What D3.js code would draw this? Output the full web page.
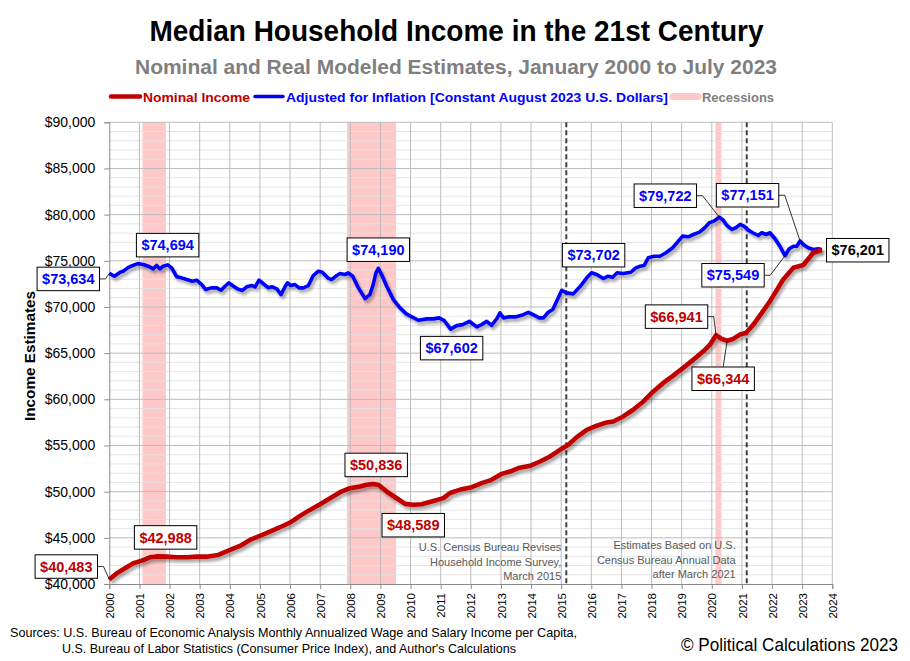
<!DOCTYPE html>
<html><head><meta charset="utf-8">
<script src="https://cdn.jsdelivr.net/npm/d3@7"></script>
<style>body{margin:0;background:#fff}svg{display:block}text{font-family:"Liberation Sans",Arial,sans-serif}</style>
</head><body><svg id="c" width="910" height="661"></svg>
<script>
// ---------- DATA ----------
const realDates = [2000.00,2000.17,2000.36,2000.46,2000.61,2000.72,2000.94,2001.13,2001.29,2001.46,2001.57,2001.68,2001.79,2001.94,2002.07,2002.24,2002.40,2002.57,2002.76,2002.90,2003.07,2003.20,2003.38,2003.57,2003.71,2003.84,2003.97,2004.12,2004.26,2004.41,2004.56,2004.73,2004.84,2004.97,2005.11,2005.28,2005.41,2005.56,2005.70,2005.83,2005.92,2006.03,2006.16,2006.30,2006.44,2006.61,2006.77,2006.94,2007.07,2007.25,2007.38,2007.55,2007.66,2007.82,2007.93,2008.08,2008.27,2008.49,2008.65,2008.76,2008.85,2008.93,2009.04,2009.21,2009.43,2009.65,2009.85,2010.00,2010.26,2010.54,2010.76,2010.95,2011.11,2011.33,2011.53,2011.73,2011.95,2012.20,2012.36,2012.53,2012.69,2012.86,2012.97,2013.08,2013.24,2013.47,2013.69,2013.91,2014.07,2014.27,2014.41,2014.57,2014.72,2014.85,2015.02,2015.18,2015.40,2015.62,2015.85,2016.01,2016.18,2016.40,2016.56,2016.71,2016.86,2017.06,2017.31,2017.48,2017.62,2017.75,2017.89,2018.08,2018.28,2018.48,2018.70,2018.89,2019.03,2019.22,2019.39,2019.59,2019.74,2019.92,2020.07,2020.25,2020.38,2020.50,2020.66,2020.80,2020.94,2021.07,2021.21,2021.36,2021.54,2021.66,2021.80,2021.93,2022.10,2022.26,2022.43,2022.57,2022.71,2022.82,2022.93,2023.04,2023.20,2023.37,2023.54,2023.65];
const realValues = [73634,73330,73760,73870,74240,74415,74694,74600,74415,74130,74490,74130,74415,74560,74240,73265,73155,72970,72790,72900,72430,71890,72070,72070,71810,72245,72610,72245,71960,71780,72180,72320,72180,72900,72540,72070,72180,71960,71345,72180,72610,72320,72430,72070,72070,72320,73405,73870,73760,73155,72970,73405,73620,73510,73700,73330,72070,70910,71345,72430,73700,74190,73510,72245,70800,69900,69285,69000,68560,68710,68710,68820,68560,67602,67980,68090,68450,67840,68090,68450,68015,68710,69360,68820,68925,68925,69100,69425,69175,68820,68820,69425,69720,70620,71810,71530,71420,72180,73155,73702,73510,73080,73330,73220,73700,73620,73760,74240,74415,74490,75325,75500,75500,75870,76410,77130,77670,77600,77850,78100,78500,79120,79300,79722,79400,78830,78400,78580,78940,78750,78320,78040,77740,78040,77850,78040,77390,76580,75549,76300,76580,76580,77151,76770,76410,76230,76300,76201];

const nominalDates = [2000.00,2000.25,2000.52,2000.80,2001.08,2001.35,2001.57,2001.91,2002.24,2002.57,2002.90,2003.23,2003.62,2004.01,2004.34,2004.67,2005.00,2005.33,2005.67,2006.00,2006.33,2006.66,2007.00,2007.33,2007.66,2007.99,2008.32,2008.54,2008.76,2008.93,2009.21,2009.54,2009.82,2010.09,2010.37,2010.70,2011.09,2011.31,2011.70,2012.03,2012.36,2012.69,2013.03,2013.30,2013.58,2013.97,2014.30,2014.63,2014.96,2015.24,2015.52,2015.85,2016.18,2016.51,2016.73,2017.06,2017.39,2017.73,2018.06,2018.39,2018.72,2019.05,2019.39,2019.72,2019.94,2020.14,2020.33,2020.51,2020.71,2020.93,2021.13,2021.38,2021.66,2021.93,2022.04,2022.37,2022.71,2023.04,2023.37,2023.65];
const nominalValues = [40483,41160,41700,42245,42530,42890,42988,42960,42890,42890,42960,42960,43150,43690,44120,44770,45210,45670,46150,46650,47375,48025,48640,49290,49940,50380,50550,50740,50836,50740,50010,49290,48680,48589,48640,48930,49300,49850,50270,50490,50920,51280,51930,52180,52550,52800,53265,53810,54530,55075,55910,56700,57140,57500,57600,58145,58870,59770,60855,61770,62560,63400,64300,65195,65920,66941,66540,66344,66540,67010,67190,68090,69360,70620,71200,72970,74240,74550,75870,76201];

const recessionStarts = [2001.10, 2007.89, 2020.12];
const recessionEnds   = [2001.88, 2009.52, 2020.32];
const markerDates = [2015.17, 2021.16];
const yearTicks = d3.range(2000, 2025);
const incomeTicks = d3.range(40000, 90001, 5000);
const minorTicks = d3.range(40000, 90001, 1000);

// labelled points: series, date, value
const labelSeries = ['real','real','real','real','real','real','real','real','both','nominal','nominal','nominal','nominal','nominal','nominal'];
const labelDates  = [2000.00,2000.94,2008.93,2011.33,2016.01,2020.25,2022.93,2022.43,2023.65,2020.14,2020.51,2008.76,2010.09,2001.57,2000.00];
const labelValues = [73634,74694,74190,67602,73702,79722,77151,75549,76201,66941,66344,50836,48589,42988,40483];
// layout of label boxes (offset from the point, leader style)
const labelLayout = [
  {dx:-41,dy:5.5,leader:'right'},{dx:30,dy:-18.5,leader:'none'},{dx:0,dy:-18.6,leader:'none'},
  {dx:1,dy:19,leader:'none'},{dx:2,dy:-17.6,leader:'none'},{dx:-54,dy:-21.5,leader:'right'},
  {dx:-52.5,dy:-45.7,leader:'right'},{dx:-52,dy:19.5,leader:'right'},{dx:36,dy:0.5,leader:'none'},
  {dx:-39.5,dy:-18.6,leader:'right'},{dx:-4,dy:38,leader:'top'},{dx:3,dy:-19,leader:'none'},
  {dx:0,dy:20.5,leader:'none'},{dx:9,dy:-19,leader:'none'},{dx:-43,dy:-13,leader:'right'}
];

// ---------- CHART ----------
const W = 910, H = 661;
const M = {left:109.3, right:832.3, top:122.3, bottom:584};
const RED = '#c00000', BLUE = '#0000ff';
const svg = d3.select('#c');
const x = d3.scaleLinear().domain([2000, 2024]).range([M.left, M.right]);
const y = d3.scaleLinear().domain([40000, 90000]).range([M.bottom, M.top]);

const defs = svg.append('defs');
const f = defs.append('filter').attr('id','sh').attr('x','-5%').attr('y','-20%').attr('width','110%').attr('height','140%');
f.append('feDropShadow').attr('dx',2).attr('dy',3).attr('stdDeviation',1.6).attr('flood-color','#000').attr('flood-opacity',0.35);

// recession bands
svg.append('g').selectAll('rect').data(recessionStarts).join('rect')
  .attr('x', d => x(d)).attr('width', (d,i) => x(recessionEnds[i]) - x(d))
  .attr('y', M.top).attr('height', M.bottom - M.top)
  .attr('fill', '#ffc9c9');

// grid
const g = svg.append('g');
g.selectAll('.mn').data(minorTicks.filter(v => v % 5000 !== 0)).join('line')
  .attr('x1', M.left).attr('x2', M.right).attr('y1', d => y(d)).attr('y2', d => y(d))
  .attr('stroke', '#e3e3e3').attr('stroke-width', 1).attr('opacity',0.9);
g.selectAll('.mj').data(incomeTicks.filter(v => v > 40000)).join('line')
  .attr('x1', M.left).attr('x2', M.right).attr('y1', d => y(d)).attr('y2', d => y(d))
  .attr('stroke', '#bdbdbd').attr('stroke-width', 1);
g.selectAll('.vx').data(yearTicks.filter(v => v > 2000)).join('line')
  .attr('x1', d => x(d)).attr('x2', d => x(d)).attr('y1', M.top).attr('y2', M.bottom)
  .attr('stroke', '#bdbdbd').attr('stroke-width', 1);

// dashed markers
svg.append('g').selectAll('line').data(markerDates).join('line')
  .attr('x1', d => x(d)).attr('x2', d => x(d)).attr('y1', M.top).attr('y2', M.bottom)
  .attr('stroke', '#404040').attr('stroke-width', 2).attr('stroke-dasharray', '5,3');

// marker notes
const noteColor = '#595959';
const note1 = ['U.S. Census Bureau Revises','Household Income Survey,','March 2015'];
const note2 = ['Estimates Based on U.S.','Census Bureau Annual Data','after March 2021'];
svg.append('g').selectAll('text').data(note1).join('text')
  .attr('x', x(markerDates[0]) - 5).attr('y', (d,i) => 551 + i*14.5)
  .attr('text-anchor','end').attr('font-size', 11).attr('fill', noteColor).text(d => d);
svg.append('g').selectAll('text').data(note2).join('text')
  .attr('x', x(markerDates[1]) - 11).attr('y', (d,i) => 549 + i*14.5)
  .attr('text-anchor','end').attr('font-size', 11).attr('fill', noteColor).text(d => d);

// axes
const yAxis = svg.append('g').attr('transform', `translate(${M.left},0)`)
  .call(d3.axisLeft(y).tickValues(incomeTicks).tickFormat(d3.format('$,')).tickSize(5).tickPadding(9));
yAxis.selectAll('text').attr('font-size', 14).attr('fill', '#000').style('font-family','"Liberation Sans",Arial,sans-serif');
yAxis.selectAll('line,path').attr('stroke', '#8c8c8c');

const xAxis = svg.append('g').attr('transform', `translate(0,${M.bottom})`)
  .call(d3.axisBottom(x).tickValues(yearTicks).tickFormat(d3.format('d')).tickSize(5));
xAxis.selectAll('text').attr('transform','rotate(-90)').attr('text-anchor','end')
  .attr('x', -9).attr('y', 0).attr('dy','0.36em').attr('font-size', 11.5).attr('fill','#000')
  .style('font-family','"Liberation Sans",Arial,sans-serif');
xAxis.selectAll('line,path').attr('stroke', '#8c8c8c');

// lines
const realData = realDates.map((d,i) => [d, realValues[i]]);
const nomData = nominalDates.map((d,i) => [d, nominalValues[i]]);
const line = d3.line().x(d => x(d[0])).y(d => y(d[1]));
svg.append('path').datum(realData).attr('d', line).attr('fill','none')
  .attr('stroke', BLUE).attr('stroke-width', 3.6).attr('stroke-linejoin','round').attr('filter','url(#sh)');
svg.append('path').datum(nomData).attr('d', line).attr('fill','none')
  .attr('stroke', RED).attr('stroke-width', 4.6).attr('stroke-linejoin','round').attr('filter','url(#sh)');

// labels
const fmt = d3.format('$,');
const lg = svg.append('g');
labelValues.forEach((v, i) => {
  const px = x(labelDates[i]), py = y(v);
  const L = labelLayout[i];
  const cx = px + L.dx, cy = py + L.dy;
  const col = labelSeries[i] === 'real' ? BLUE : (labelSeries[i] === 'nominal' ? RED : '#000');
  const gg = lg.append('g');
  const t = gg.append('text').attr('x', cx).attr('y', cy).attr('dy','0.36em')
    .attr('text-anchor','middle').attr('font-size', 14.5).attr('font-weight','bold')
    .attr('fill', col).text(fmt(v));
  const bb = t.node().getBBox();
  const bw = bb.width + 10, bh = 23.5;
  gg.insert('rect','text').attr('x', cx - bw/2).attr('y', cy - bh/2).attr('width', bw).attr('height', bh)
    .attr('fill','#fff').attr('stroke','#000').attr('stroke-width',1);
  if (L.leader === 'right') {
    const sx = cx + bw/2;
    gg.insert('path','rect').attr('d', `M${sx},${cy}H${sx+6}L${px},${py}`)
      .attr('fill','none').attr('stroke','#000').attr('stroke-width',0.8);
  } else if (L.leader === 'top') {
    gg.insert('path','rect').attr('d', `M${cx},${cy-bh/2}L${px},${py}`)
      .attr('fill','none').attr('stroke','#000').attr('stroke-width',0.8);
  }
});

// titles
svg.append('text').attr('x', 456.5).attr('y', 41).attr('text-anchor','middle')
  .attr('font-size', 29).attr('font-weight','bold').attr('fill','#000')
  .attr('textLength', 614).attr('lengthAdjust','spacingAndGlyphs')
  .text('Median Household Income in the 21st Century');
svg.append('text').attr('x', 456).attr('y', 74).attr('text-anchor','middle')
  .attr('font-size', 20).attr('font-weight','bold').attr('fill','#7f7f7f')
  .attr('textLength', 642).attr('lengthAdjust','spacingAndGlyphs')
  .text('Nominal and Real Modeled Estimates, January 2000 to July 2023');

// legend
const leg = svg.append('g');
const legItems = [
  {x1:111, x2:140, col:RED, w:4.5, tx:143, tl:107, text:'Nominal Income', tc:RED},
  {x1:255, x2:283, col:BLUE, w:3.5, tx:286, tl:382, text:'Adjusted for Inflation [Constant August 2023 U.S. Dollars]', tc:BLUE},
  {x1:673, x2:698, col:'#ffc9c9', w:7, tx:702, tl:72, text:'Recessions', tc:'#7f7f7f'}
];
legItems.forEach(d => {
  leg.append('line').attr('x1', d.x1).attr('x2', d.x2).attr('y1', 96.5).attr('y2', 96.5)
    .attr('stroke', d.col).attr('stroke-width', d.w).attr('stroke-linecap','round');
  leg.append('text').attr('x', d.tx).attr('y', 101.5).attr('font-size', 13.5).attr('font-weight','bold')
    .attr('fill', d.tc).attr('textLength', d.tl).attr('lengthAdjust','spacingAndGlyphs').text(d.text);
});

// y title
svg.append('text').attr('transform','translate(35,356) rotate(-90)').attr('text-anchor','middle')
  .attr('font-size', 15).attr('font-weight','bold').attr('fill','#000')
  .attr('textLength', 130).attr('lengthAdjust','spacingAndGlyphs').text('Income Estimates');

// sources
svg.append('text').attr('x', 10).attr('y', 637).attr('font-size', 13).attr('fill','#000')
  .attr('textLength', 567).attr('lengthAdjust','spacingAndGlyphs')
  .text('Sources: U.S. Bureau of Economic Analysis Monthly Annualized Wage and Salary Income per Capita,');
svg.append('text').attr('x', 62).attr('y', 653).attr('font-size', 13).attr('fill','#000')
  .attr('textLength', 454).attr('lengthAdjust','spacingAndGlyphs')
  .text("U.S. Bureau of Labor Statistics (Consumer  Price Index), and Author's Calculations");
svg.append('text').attr('x', 898).attr('y', 651).attr('text-anchor','end').attr('font-size', 18).attr('fill','#000')
  .attr('textLength', 217).attr('lengthAdjust','spacingAndGlyphs')
  .text('© Political Calculations 2023');
</script></body></html>
